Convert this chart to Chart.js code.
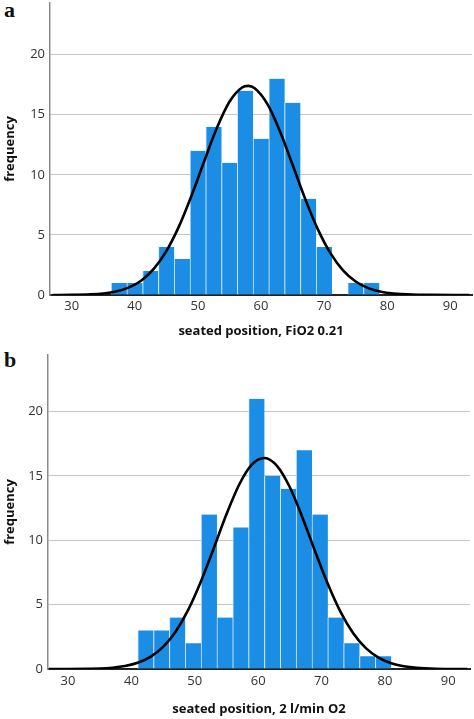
<!DOCTYPE html>
<html>
<head>
<meta charset="utf-8">
<script src="https://cdn.jsdelivr.net/npm/chart.js@4.4.1/dist/chart.umd.min.js"></script>
<style>
  body { margin: 0; background: #fff; width: 474px; height: 719px; position: relative; overflow: hidden; }
  .panel { position: absolute; left: 0; }
  .tag { position: absolute; font-family: 'Liberation Serif', 'DejaVu Serif', serif; font-weight: bold; font-size: 22px; line-height: 22px; color: #111; }
</style>
</head>
<body>
<div class="tag" style="left:4px; top:-1px;">a</div>
<div class="tag" style="left:4px; top:349px;">b</div>
<canvas id="chartA" class="panel" style="top:0" width="474" height="345"></canvas>
<canvas id="chartB" class="panel" style="top:345px" width="474" height="374"></canvas>
<script>
// panel a : seated position, FiO2 0.21
const binsA   = [37.5, 40, 42.5, 45, 47.5, 50, 52.5, 55, 57.5, 60, 62.5, 65, 67.5, 70, 72.5, 75, 77.5];
const countsA = [1, 1, 2, 4, 3, 12, 14, 11, 17, 13, 18, 16, 8, 4, 0, 1, 1];
const curveXA = [27, 30, 33, 35, 37, 39, 41, 43, 45, 47, 49, 51, 53, 55, 57, 58, 59, 61, 63, 65, 67, 69, 71, 73, 75, 77, 79, 81, 84, 87, 93];
const curveYA = [0, 0.01, 0.05, 0.13, 0.29, 0.61, 1.19, 2.17, 3.65, 5.71, 8.28, 11.13, 13.89, 16.08, 17.27, 17.4, 17.2, 15.9, 13.63, 10.84, 8.0, 5.48, 3.48, 2.05, 1.12, 0.57, 0.27, 0.12, 0.03, 0.01, 0];

// panel b : seated position, 2 l/min O2
const binsB   = [42.25, 44.75, 47.25, 49.75, 52.25, 54.75, 57.25, 59.75, 62.25, 64.75, 67.25, 69.75, 72.25, 74.75, 77.25, 79.75];
const countsB = [3, 3, 4, 2, 12, 4, 11, 21, 15, 14, 17, 12, 4, 2, 1, 1];
const curveXB = [27, 30, 33, 35, 37, 39, 41, 43, 45, 47, 49, 51, 53, 55, 57, 59, 61, 63, 65, 67, 69, 71, 73, 75, 77, 79, 81, 83, 85, 88, 93];
const curveYB = [0, 0.003, 0.02, 0.04, 0.1, 0.23, 0.48, 0.94, 1.72, 2.92, 4.63, 6.84, 9.39, 12.02, 14.32, 15.88, 16.4, 15.77, 14.12, 11.76, 9.13, 6.6, 4.44, 2.78, 1.62, 0.88, 0.44, 0.21, 0.09, 0.02, 0];

const xTicks = [30, 40, 50, 60, 70, 80, 90];

const tickFont  = { family: "'Open Sans', 'Noto Sans', sans-serif", size: 13 };
const titleFont = { family: "'Open Sans', 'Noto Sans', sans-serif", size: 13, weight: 'bold' };

function makeHisto(id, bins, counts, cx, cy, opt) {
    const barData  = bins.map((b, i) => ({ x: b, y: counts[i] }));
    const lineData = cx.map((x, i) => ({ x: x, y: cy[i] }));

    new Chart(document.getElementById(id), {
        type: 'bar',
        data: {
            datasets: [
                {
                    type: 'line',
                    data: lineData,
                    borderColor: '#000',
                    borderWidth: 2.6,
                    pointRadius: 0,
                    tension: 0.4,
                    cubicInterpolationMode: 'monotone',
                    order: 0
                },
                {
                    data: barData,
                    backgroundColor: '#1c8de4',
                    borderColor: '#cfe6f8',
                    borderWidth: { left: 1, right: 0, top: 0, bottom: 0 },
                    borderSkipped: false,
                    barPercentage: 1,
                    categoryPercentage: 1,
                    order: 1
                }
            ]
        },
        options: {
            responsive: false,
            animation: false,
            layout: { padding: { top: opt.top, right: opt.right, left: 0, bottom: 0 } },
            plugins: { legend: { display: false }, tooltip: { enabled: false } },
            scales: {
                x: {
                    type: 'linear',
                    offset: false,
                    min: opt.xmin,
                    max: opt.xmax,
                    afterFit: s => { s.height = opt.xh; s.paddingLeft = 0; s.paddingRight = 0; },
                    afterBuildTicks: s => { s.ticks = xTicks.map(v => ({ value: v })); },
                    grid: { display: false, offset: false },
                    border: { color: '#222', width: 2 },
                    ticks: { font: tickFont, color: '#333', padding: opt.tp, maxRotation: 0 },
                    title: { display: true, text: opt.title, font: titleFont, color: '#111', padding: { top: 0, bottom: opt.tb } }
                },
                y: {
                    min: 0,
                    max: opt.ymax,
                    afterFit: s => { s.width = opt.yw; s.paddingTop = 0; s.paddingBottom = 0; },
                    ticks: { stepSize: 5, includeBounds: false, font: tickFont, color: '#333', padding: 5 },
                    grid: {
                        drawTicks: false,
                        color: c => (c.tick && c.tick.value === 0) ? 'rgba(0,0,0,0)' : '#c6c6c6',
                        lineWidth: 1
                    },
                    border: { color: '#8a8a8a', width: 1.5 },
                    title: { display: true, text: 'frequency', font: titleFont, color: '#111', padding: { top: 2, bottom: 0 } }
                }
            }
        }
    });
}

makeHisto('chartA', binsA, countsA, curveXA, curveYA,
    { top: 3, right: 2, xh: 50, yw: 50, xmin: 26.56, xmax: 93.44, ymax: 24.3, tb: 6, tp: -5, title: 'seated position, FiO2 0.21' });
makeHisto('chartB', binsB, countsB, curveXB, curveYB,
    { top: 10, right: 4, xh: 50, yw: 48, xmin: 26.84, xmax: 93.43, ymax: 24.4, tb: 2, tp: -4, title: 'seated position, 2 l/min O2' });
</script>
</body>
</html>
